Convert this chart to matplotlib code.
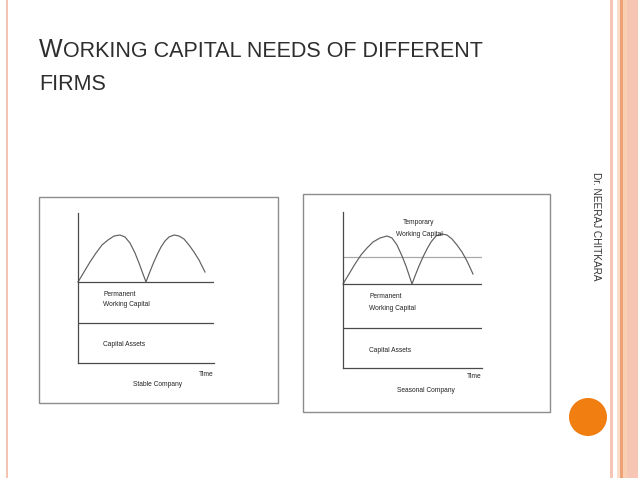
import matplotlib
matplotlib.use('Agg')
import matplotlib.pyplot as plt
from matplotlib.patches import Rectangle, Circle

# ---- data ----
title_first = 'W'
title_rest = 'ORKING CAPITAL NEEDS OF DIFFERENT'
title_line2 = 'FIRMS'
side_label = 'Dr. NEERAJ CHITKARA'

# stable company: time vs. total capital
stable_t = [0, 6, 12, 18, 24, 30, 36, 42, 47, 52, 57, 61, 65, 68,
            71, 75, 79, 83, 87, 91, 96, 101, 106, 111, 116, 121, 127]
stable_v = [81, 91, 101, 110, 118, 123, 127, 128, 126, 120, 110, 100, 89, 81,
            89, 99, 108, 116, 122, 126, 128, 127, 124, 118, 111, 103, 91]
stable_levels = {'capital': 40, 'permanent': 81}

# seasonal company
seasonal_t = [0, 6, 12, 18, 24, 30, 37, 44, 49, 54, 59, 63, 66, 69,
              72, 76, 80, 84, 88, 93, 99, 104, 109, 114, 119, 124, 130]
seasonal_v = [84, 94, 104, 113, 120, 126, 130, 132, 130, 123, 112, 102, 93, 84,
              92, 102, 111, 119, 126, 132, 134, 133, 129, 123, 116, 107, 94]
seasonal_levels = {'capital': 40, 'permanent': 84, 'temporary': 111}

W, H = 638, 478
fig = plt.figure(figsize=(6.38, 4.78), dpi=100)
fig.patch.set_facecolor('white')

# background / decoration layer in pixel coords
bg = fig.add_axes([0, 0, 1, 1], zorder=0)
bg.set_xlim(0, W)
bg.set_ylim(H, 0)
bg.axis('off')

salmon = '#f7c5b4'
bg.add_patch(Rectangle((6, 0), 2, H, color='#f5c3b2', lw=0))
bg.add_patch(Rectangle((610, 0), 3, H, color=salmon, lw=0))
bg.add_patch(Rectangle((617, 0), 3, H, color='#fadccb', lw=0))
bg.add_patch(Rectangle((620, 0), 3, H, color='#eea276', lw=0))
bg.add_patch(Rectangle((623, 0), 4, H, color='#f9cfb2', lw=0))
bg.add_patch(Rectangle((627, 0), 11, H, color=salmon, lw=0))
bg.add_patch(Circle((588, 417), 19, color='#f07e10', lw=0))

# picture frames
bg.add_patch(Rectangle((39, 197), 239, 206, fill=False, ec='#8c8c8c', lw=1))
bg.add_patch(Rectangle((303, 194), 247, 218, fill=False, ec='#8c8c8c', lw=1))

bg.text(596, 226, side_label, rotation=-90, ha='center', va='center',
        fontsize=7.2, color='#333333', family='Liberation Sans')

# title with small caps
t1 = fig.text(39 / W, 1 - 57 / H, title_first, fontsize=18, color='#2e2e2e',
              family='Liberation Sans', va='baseline')
r = fig.canvas.get_renderer()
bb = t1.get_window_extent(r)
fig.text(bb.x1 / W, 1 - 57 / H, title_rest, fontsize=15.5, color='#2e2e2e',
         family='Liberation Sans', va='baseline')
fig.text(39 / W, 1 - 90 / H, title_line2, fontsize=15.5, color='#2e2e2e',
         family='Liberation Sans', va='baseline')


def panel(rect, t, v, levels, xmax, ymax):
    ax = fig.add_axes(rect, zorder=2)
    ax.patch.set_alpha(0)
    ax.set_xlim(0, xmax)
    ax.set_ylim(0, ymax)
    for s in ['top', 'right']:
        ax.spines[s].set_visible(False)
    for s in ['left', 'bottom']:
        ax.spines[s].set_color('#4a4a4a')
        ax.spines[s].set_linewidth(0.9)
    ax.set_xticks([])
    ax.set_yticks([])
    ax.axhline(levels['capital'], color='#4a4a4a', lw=0.9)
    ax.axhline(levels['permanent'], color='#4a4a4a', lw=0.9)
    if 'temporary' in levels:
        ax.axhline(levels['temporary'], color='#a8a8a8', lw=0.9)
    ax.plot(t, v, color='#5f5f5f', lw=0.85, clip_on=False)
    return ax


kw = dict(fontsize=4.8, color='#222222', family='Liberation Sans',
          clip_on=False)

# stable company
ax1 = panel([78 / W, 1 - 363 / H, 136 / W, 150 / H],
            stable_t, stable_v, stable_levels, 136, 150)
ax1.text(25, 68, 'Permanent', va='center', **kw)
ax1.text(25, 58, 'Working Capital', va='center', **kw)
ax1.text(25, 18, 'Capital Assets', va='center', **kw)
ax1.text(135, -12, 'Time', ha='right', va='center', **kw)
ax1.text(80, -22, 'Stable Company', ha='center', va='center', **kw)

# seasonal company
ax2 = panel([343 / W, 1 - 368 / H, 139 / W, 156 / H],
            seasonal_t, seasonal_v, seasonal_levels, 139, 156)
ax2.text(76, 145, 'Temporary', ha='center', va='center', **kw)
ax2.text(76, 133, 'Working Capital', ha='center', va='center', **kw)
ax2.text(26, 71, 'Permanent', va='center', **kw)
ax2.text(26, 60, 'Working Capital', va='center', **kw)
ax2.text(26, 18, 'Capital Assets', va='center', **kw)
ax2.text(138, -9, 'Time', ha='right', va='center', **kw)
ax2.text(83, -23, 'Seasonal Company', ha='center', va='center', **kw)

fig.savefig('out.png', dpi=100)
